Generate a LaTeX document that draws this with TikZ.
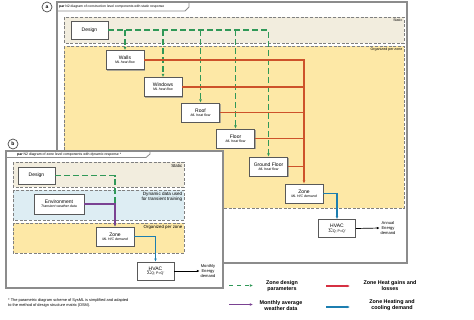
\documentclass[tikz,border=0pt]{standalone}
\usepackage{fontspec}
\setmainfont{Liberation Sans}
\usetikzlibrary{arrows.meta,shadows}

\definecolor{framegray}{RGB}{140,140,140}
\definecolor{staticfill}{RGB}{242,237,222}
\definecolor{zonefill}{RGB}{253,232,166}
\definecolor{dynfill}{RGB}{221,237,243}
\definecolor{designgreen}{RGB}{48,152,88}
\definecolor{heatred}{RGB}{205,82,42}
\definecolor{legendred}{RGB}{214,48,66}
\definecolor{demandblue}{RGB}{28,126,176}
\definecolor{weatherpurple}{RGB}{122,66,146}

\newcommand{\comp}[2]{#1\\[-1.5pt]{\fontsize{3.5}{4}\selectfont\itshape #2}}

\begin{document}
\begin{tikzpicture}[x=1pt,y=-1pt,
  frame/.style={draw=framegray,line width=1.3pt,fill=white},
  region/.style={draw=black!50,dashed,dash pattern=on 3pt off 1.6pt,line width=0.8pt},
  regionlabel/.style={anchor=north east,inner sep=0.5pt,align=right,font=\fontsize{3.6}{4.2}\selectfont},
  block/.style={draw=black!65,fill=white,line width=0.7pt,minimum width=38pt,minimum height=19pt,
    inner sep=0.5pt,align=center,font=\fontsize{5}{5.6}\selectfont,
    drop shadow={shadow xshift=1pt,shadow yshift=-1pt,fill=black!45,opacity=0.7}},
  plain/.style={draw=black!65,fill=white,line width=0.6pt,minimum width=37pt,minimum height=18pt,
    inner sep=0.5pt,align=center,font=\fontsize{5}{5.6}\selectfont},
  outtext/.style={align=center,inner sep=0.5pt,font=\fontsize{4.1}{4.9}\selectfont},
  design/.style={draw=designgreen,line width=1.1pt,dash pattern=on 6pt off 3pt,-{Latex[length=3.2pt,width=2.8pt]}},
  heat/.style={draw=heatred,line width=1.1pt,-{Latex[length=3.2pt,width=2.8pt]}},
  demand/.style={draw=demandblue,line width=1.1pt,-{Latex[length=3.2pt,width=2.8pt]}},
  weather/.style={draw=weatherpurple,line width=1.1pt,-{Latex[length=3.2pt,width=2.8pt]}},
  legtext/.style={align=center,inner sep=0.5pt,font=\fontsize{5.4}{6.2}\selectfont\bfseries}]

\useasboundingbox (0,0) rectangle (474,319);

% frame a
\draw[frame] (57,2) rectangle (407,263);
\draw[framegray,line width=0.8pt] (57,11) -- (185,11) -- (189,7) -- (189,2);
\node[anchor=west,inner sep=0pt,font=\fontsize{3.4}{4}\selectfont] (titleA) at (59,6.5)
  {\textbf{par} N2 diagram of construction level components with static response};
\node[draw=black!70,circle,line width=0.7pt,minimum size=10pt,inner sep=0pt,font=\fontsize{5}{6}\selectfont\bfseries] (tagA) at (47,7) {a};

\fill[staticfill] (64,17) rectangle (404,43);
\draw[region] (64,17) rectangle (404,43);
\node[regionlabel] (staticA) at (403,18.5) {Static};
\fill[zonefill] (64,46) rectangle (404,208);
\draw[region] (64,46) rectangle (404,208);
\node[regionlabel] (perzoneA) at (403,47.5) {Organized per zone};

\node[plain] (designA) at (89.5,30) {Design};
\node[block] (walls) at (125,60) {\comp{Walls}{ML heat flow}};
\node[block] (windows) at (163,87) {\comp{Windows}{ML heat flow}};
\node[block] (roof) at (200.5,112.5) {\comp{Roof}{ML heat flow}};
\node[block] (floor) at (235.5,138.5) {\comp{Floor}{ML heat flow}};
\node[block] (gfloor) at (268.5,166.5) {\comp{Ground Floor}{ML heat flow}};
\node[block] (zoneA) at (304,193.5) {\comp{Zone}{ML H/C demand}};
\node[plain] (hvacA) at (337,228.5) {HVAC\\[-1pt]{\fontsize{3.6}{4}\selectfont $\Sigma$Q; P=Q'}};
\node[outtext] (annual) at (388,228) {Annual\\Energy\\demand};

% design parameters
\draw[design] (designA.east) -| (gfloor.north);
\draw[design] (walls.north |- designA.east) -- (walls.north);
\draw[design] (windows.north |- designA.east) -- (windows.north);
\draw[design] (roof.north |- designA.east) -- (roof.north);
\draw[design] (floor.north |- designA.east) -- (floor.north);

% heat gains and losses
\draw[heat] (walls.east) -| (zoneA.north);
\draw[heatred,line width=1.1pt] (windows.east) -- (windows.east -| zoneA.north);
\draw[heatred,line width=1.1pt] (roof.east) -- (roof.east -| zoneA.north);
\draw[heatred,line width=1.1pt] (floor.east) -- (floor.east -| zoneA.north);
\draw[heatred,line width=1.1pt] (gfloor.east) -- (gfloor.east -| zoneA.north);

\draw[demand] (zoneA.east) -| (hvacA.north);
\draw[-{Latex[length=3pt,width=2.4pt]},line width=0.7pt] (hvacA.east) -- (annual.west);

% frame b
\draw[frame] (6,151) rectangle (223,288);
\draw[framegray,line width=0.8pt] (6,157.5) -- (146,157.5) -- (150,154) -- (150,151);
\node[anchor=west,inner sep=0pt,font=\fontsize{3.5}{4}\selectfont] (titleB) at (17,154.3)
  {\textbf{par} N2 diagram of zone level components with dynamic response *};
\node[draw=black!70,circle,line width=0.7pt,minimum size=10pt,inner sep=0pt,font=\fontsize{5}{6}\selectfont\bfseries] (tagB) at (13,144) {b};

\fill[staticfill] (13,162) rectangle (184,187);
\draw[region] (13,162) rectangle (184,187);
\node[regionlabel,font=\fontsize{4.4}{5}\selectfont] (staticB) at (183,163.5) {Static};
\fill[dynfill] (13,190) rectangle (184,220);
\draw[region] (13,190) rectangle (184,220);
\node[regionlabel,font=\fontsize{4.6}{5.2}\selectfont] (dynB) at (183,191.5) {Dynamic data used\\for transient training};
\fill[zonefill] (13,223) rectangle (184,253);
\draw[region] (13,223) rectangle (184,253);
\node[regionlabel,font=\fontsize{4.4}{5}\selectfont] (perzoneB) at (183,224.5) {Organized per zone};

\node[plain,minimum height=17pt] (designB) at (36.5,175.5) {Design};
\node[plain,minimum width=50pt,minimum height=20pt] (env) at (59,204) {\comp{Environment}{Transient weather data}};
\node[block] (zoneB) at (115,236.5) {\comp{Zone}{ML H/C demand}};
\node[plain] (hvacB) at (155.5,271) {HVAC\\[-1pt]{\fontsize{3.6}{4}\selectfont $\Sigma$Q; P=Q'}};
\node[outtext] (monthly) at (208,271) {Monthly\\Energy\\demand};

\draw[design] (designB.east) -| (zoneB.north);
\draw[weather] (env.east) -| (zoneB.north);
\draw[demand] (zoneB.east) -| (hvacB.north);
\draw[-{Latex[length=3pt,width=2.4pt]},line width=0.7pt] (hvacB.east) -- (monthly.west);

% footnote
\node[anchor=north west,align=left,inner sep=0pt,font=\fontsize{3.9}{4.7}\selectfont] (note) at (8,298.5)
  {* The parametric diagram scheme of SysML is simplified and adapted\\to the method of design structure matrix (DSM).};

% legend
\coordinate (lgA) at (229,285.5);
\coordinate (lgB) at (253,285.5);
\coordinate (lpA) at (229,304.5);
\coordinate (lpB) at (253,304.5);
\coordinate (lrA) at (326,286);
\coordinate (lrB) at (350,286);
\coordinate (lbA) at (326,307);
\coordinate (lbB) at (350,307);
\draw[design,dash pattern=on 4pt off 4pt] (lgA) -- (lgB);
\draw[weather] (lpA) -- (lpB);
\draw[heat,draw=legendred] (lrA) -- (lrB);
\draw[demand] (lbA) -- (lbB);
\node[legtext] (legdesign) at (282,286) {Zone design\\parameters};
\node[legtext] (legweather) at (281,305.5) {Monthly average\\weather data};
\node[legtext] (legheat) at (390,285.5) {Zone Heat gains and\\losses};
\node[legtext] (legdemand) at (392,305.5) {Zone Heating and\\cooling demand};
\end{tikzpicture}
\end{document}
